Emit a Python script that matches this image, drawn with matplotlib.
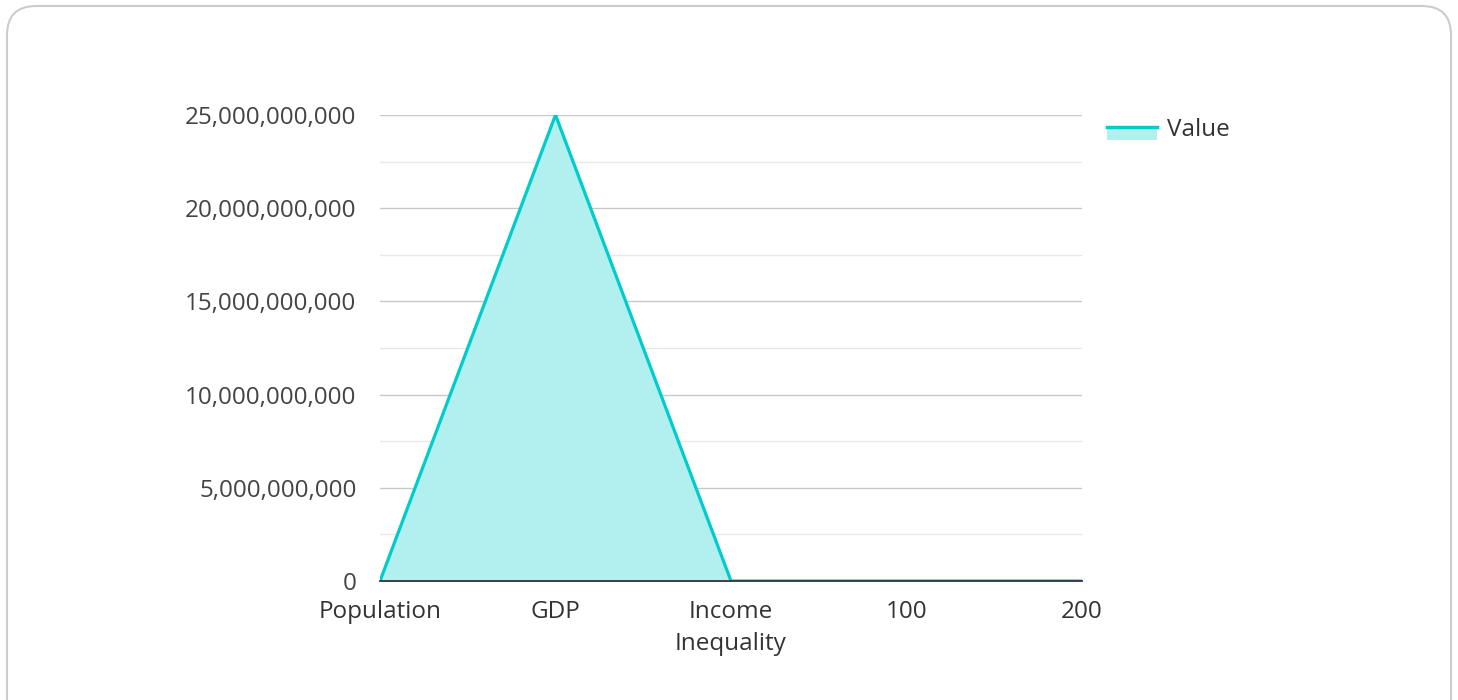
import matplotlib.pyplot as plt
from matplotlib.patches import FancyBboxPatch, Rectangle
from matplotlib.lines import Line2D
from matplotlib.ticker import FuncFormatter, MultipleLocator

categories = ['Population', 'GDP', 'Income\nInequality', '100', '200']
values = [0, 25000000000, 0, 0, 0]
series_name = 'Value'

line_col = '#00cccc'
fill_col = '#b2efef'
text_col = '#444444'
fs = 17.5

plt.rcParams['font.family'] = ['Open Sans', 'DejaVu Sans']

fig = plt.figure(figsize=(14.58, 7), dpi=100)

# rounded card border, kept behind the axes
card = FancyBboxPatch((7 / 1458, -0.05), 1444 / 1458, 1 - 6 / 700 + 0.05,
                      boxstyle='round,pad=0,rounding_size=0.02',
                      transform=fig.transFigure, facecolor='white',
                      edgecolor='#cccccc', linewidth=1.5, mutation_aspect=1458 / 700,
                      zorder=-10)
fig.patches.append(card)

ax = fig.add_axes([380 / 1458, 1 - 581 / 700, 702 / 1458, 466 / 700])
ax.set_facecolor('none')

x = list(range(len(categories)))
ax.fill_between(x, values, 0, color=fill_col, zorder=2, linewidth=0)
ax.plot(x, values, color=line_col, linewidth=2.3, zorder=3, solid_joinstyle='miter')

ax.set_xlim(0, len(categories) - 1)
ax.set_ylim(0, 25000000000)
ax.yaxis.set_major_locator(MultipleLocator(5000000000))
ax.yaxis.set_minor_locator(MultipleLocator(2500000000))
ax.yaxis.set_major_formatter(FuncFormatter(lambda v, p: f'{int(v):,}'))
ax.grid(True, which='major', axis='y', color='#c8c8c8', linewidth=1, zorder=0)
ax.grid(True, which='minor', axis='y', color='#e8e8e8', linewidth=1, zorder=0)

ax.set_xticks(x)
ax.set_xticklabels(categories, linespacing=1.4)

for s in ['top', 'right', 'left']:
    ax.spines[s].set_visible(False)
ax.spines['bottom'].set_color('#333333')
ax.spines['bottom'].set_linewidth(1.3)
ax.spines['bottom'].set_zorder(4)

ax.tick_params(axis='y', which='both', length=0, pad=17, labelsize=fs, labelcolor=text_col)
ax.tick_params(axis='x', length=0, pad=14, labelsize=fs, labelcolor='#333333')

# legend: line over a fill swatch
lx0, lx1 = 1107 / 1458, 1157 / 1458
fig.patches.append(Rectangle((lx0, 1 - 140 / 700), lx1 - lx0, 13 / 700,
                             transform=fig.transFigure, facecolor=fill_col, edgecolor='none'))
fig.lines.append(Line2D([lx0, lx1], [1 - 127 / 700, 1 - 127 / 700], transform=fig.transFigure,
                        color=line_col, linewidth=2.5))
fig.text(1167 / 1458, 1 - 130 / 700, series_name, fontsize=fs, color='#333333', va='center')

fig.savefig('out.png', dpi=100)
